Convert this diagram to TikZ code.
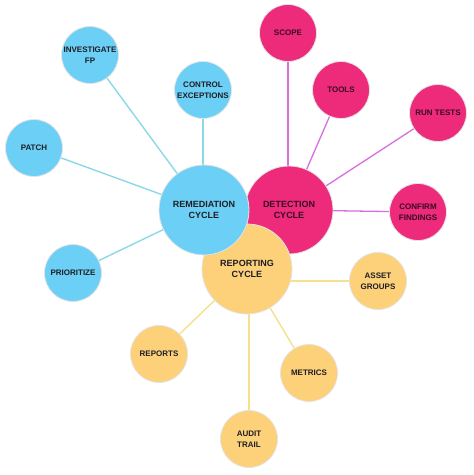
\documentclass[tikz,border=0pt]{standalone}
\usepackage{fontspec}
\setmainfont{Liberation Sans}
\usetikzlibrary{backgrounds}
\definecolor{remedblue}{RGB}{108,207,246}
\definecolor{detectpink}{RGB}{238,42,123}
\definecolor{reportorange}{RGB}{253,208,122}
\definecolor{remedline}{RGB}{140,216,232}
\definecolor{detectline}{RGB}{214,110,224}
\definecolor{reportline}{RGB}{245,224,140}
\definecolor{textdark}{RGB}{30,30,35}
\definecolor{pinktext}{RGB}{55,10,35}
\definecolor{halo}{RGB}{228,228,228}

\begin{document}
\begin{tikzpicture}[
    x=1pt, y=1pt,
    every node/.style={font=\bfseries\fontsize{8}{10.6}\selectfont, text=textdark},
    bubble/.style={
      circle, inner sep=0pt, minimum size=57pt, align=center,
      draw=halo, line width=0.8pt
    },
    hub/.style={bubble, minimum size=90pt,
      font=\bfseries\fontsize{9}{11.6}\selectfont},
    remed/.style={bubble, fill=remedblue},
    detect/.style={bubble, fill=detectpink, text=pinktext},
    report/.style={bubble, fill=reportorange},
    remedlink/.style={line width=1.4pt, draw=remedline},
    detectlink/.style={line width=1.3pt, draw=detectline},
    reportlink/.style={line width=1.4pt, draw=reportline}
  ]
    \useasboundingbox (0,0) rectangle (474,475);

    % the three cycles
    \node[detect, hub, minimum size=88pt] (detection) at (289,265) {DETECTION\\CYCLE};
    \node[report, hub] (reporting) at (247,206) {REPORTING\\CYCLE};
    \node[remed, hub] (remediation) at (204,265) {REMEDIATION\\CYCLE};

    \node[remed] (invfp) at (90,420) {INVESTIGATE\\FP};
    \node[remed] (ctrl) at (203,385) {CONTROL\\EXCEPTIONS};
    \node[remed] (patch) at (34,327) {PATCH};
    \node[remed] (prior) at (73,202) {PRIORITIZE};

    \node[detect] (scope) at (288,442) {SCOPE};
    \node[detect] (tools) at (341,385) {TOOLS};
    \node[detect] (runtests) at (438,362) {RUN TESTS};
    \node[detect] (confirm) at (418,263) {CONFIRM\\FINDINGS};

    \node[report] (asset) at (378,194) {ASSET\\GROUPS};
    \node[report] (reports) at (159,121) {REPORTS};
    \node[report] (metrics) at (309,102) {METRICS};
    \node[report] (audit) at (249,36) {AUDIT\\TRAIL};

    \begin{scope}[on background layer]
      \draw[remedlink] (invfp) -- (remediation.center);
      \draw[remedlink] (ctrl) -- (ctrl |- remediation.center);
      \draw[remedlink] (patch) -- (remediation.center);
      \draw[remedlink] (prior) -- (remediation.center);
      \draw[detectlink] (scope) -- (scope |- detection.center);
      \draw[detectlink] (tools) -- (detection.center);
      \draw[detectlink] (runtests) -- (detection.center);
      \draw[detectlink] (confirm) -- (detection.center);
      \draw[reportlink] (asset) -- (asset -| reporting.center);
      \draw[reportlink] (reports) -- (reporting.center);
      \draw[reportlink] (metrics) -- (reporting.center);
      \draw[reportlink] (audit) -- (audit |- reporting.center);
    \end{scope}
  \end{tikzpicture}
\end{document}
